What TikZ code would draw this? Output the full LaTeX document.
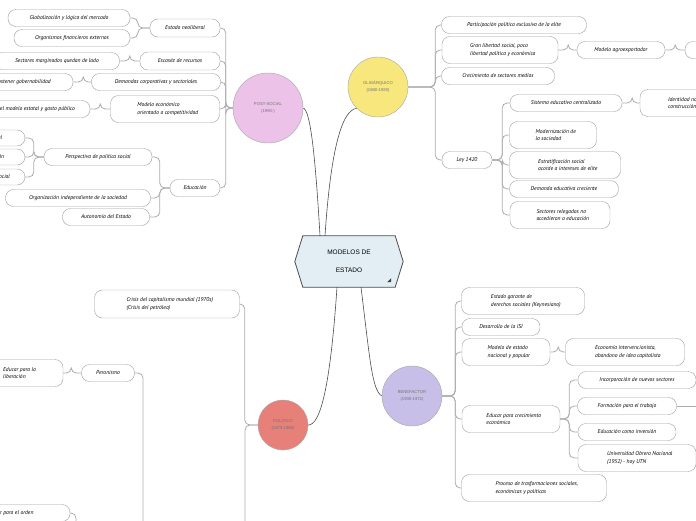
\documentclass[tikz,border=0pt]{standalone}
\usepackage{fontspec}
\setmainfont{PT Sans}
\newfontfamily\circfont{Liberation Sans}
\definecolor{cpink}{HTML}{EDC2E8}
\definecolor{cyel}{HTML}{F8E77C}
\definecolor{clav}{HTML}{C7BFE7}
\definecolor{cred}{HTML}{E8807A}
\definecolor{cblue}{HTML}{E2EEF3}
\begin{document}
\begin{tikzpicture}[x=1pt,y=-1pt,
  tb/.style={draw=gray!75, rounded corners=8pt, fill=white, font=\fontsize{5.6}{7.5}\selectfont\itshape, align=left, inner sep=1.5pt},
  cn/.style={draw=gray!65, line width=0.8pt, rounded corners=5pt},
  mn/.style={draw=black!70, line width=0.6pt},
  circ/.style={circle, draw=gray!70, font=\circfont\fontsize{4.2}{7}\selectfont, text=black!55, align=center}]
\newcommand\bx[6]{\node[tb, minimum width=#4pt, minimum height=#5pt] (#1) at (#2,#3) {#6};}
\newcommand\lc[3]{\draw[cn] (#1.west) -- ++(-#3,0) |- (#2.east);}
\newcommand\rc[3]{\draw[cn] (#1.east) -- ++(#3,0) |- (#2.west);}
\useasboundingbox (0,0) rectangle (696,520);
\begin{scope}
\clip (0,0) rectangle (696,520);
% central
\node[minimum width=108pt, minimum height=51pt, inner sep=0] (c) at (349,261.5) {};
\draw[fill=cblue, draw=black!70, line width=0.8pt] (c.west) -- ([xshift=8]c.north west) -- ([xshift=-8]c.north east) -- (c.east) -- ([xshift=-8]c.south east) -- ([xshift=8]c.south west) -- cycle;
\fill[black!75] ([xshift=-16,yshift=5]c.south east) -- ([xshift=-12,yshift=5]c.south east) -- ([xshift=-12,yshift=9]c.south east) -- cycle;
\node[font=\circfont\fontsize{6.5}{18}\selectfont, align=center] (ct) at (349,261.5) {MODELOS DE\\ESTADO};
% circles
\node[circ, fill=cpink, minimum size=70pt] (ps) at (268,108) {POST-SOCIAL\\(1990-)};
\node[circ, fill=cyel, minimum size=60pt] (ol) at (378,87) {OLIGÁRQUICO\\(1880-1929)};
\node[circ, fill=clav, minimum size=60pt] (bf) at (412,396) {BENEFACTOR\\(1930-1972)};
\node[circ, fill=cred, minimum size=50pt] (pol) at (283,425) {POLÍTICO\\(1973-1989)};
\draw[mn] ([xshift=-29]c.north) .. controls (315,150) and (310,110) .. (ps.east);
\draw[mn] ([xshift=-24]c.north) .. controls (330,160) and (340,110) .. (ol.south west);
\draw[mn] ([xshift=12]c.south) .. controls (370,360) and (372,390) .. (bf.west);
\draw[mn] ([xshift=-12]c.south) .. controls (330,390) and (320,425) .. (pol.east);
% POST-SOCIAL
\bx{en}{185}{28}{70}{18}{Estado neoliberal}
\bx{gl}{69}{18}{122}{17}{Globalización y lógica del mercado}
\bx{of}{72}{38}{116}{17}{Organismos financieros externos}
\bx{er}{180}{61}{80}{18}{Escaséz de recursos}
\bx{sm}{57}{61}{125}{17}{Sectores marginados quedan de lado}
\bx{dc}{156}{82}{129}{17}{Demandas corporativas y sectoriales}
\bx{sg}{23}{82}{100}{17}{\hfill Sostener gobernabilidad}
\bx{me}{165}{109}{109}{27}{\quad Modelo económico\\\quad orientado a competitividad}
\bx{mg}{20}{109}{140}{17}{\hfill Achicamiento del modelo estatal y gasto público}
\bx{ed}{195}{188}{50}{17}{Educación}
\bx{pp}{98}{157}{108}{17}{Perspectiva de política social}
\bx{a1}{-10}{138}{70}{16}{\hfill Asistencial}
\bx{a2}{-10}{157}{70}{16}{\hfill Focalización}
\bx{a3}{-10}{177}{70}{16}{\hfill Contención social}
\bx{oi}{78}{198}{145}{17}{Organización independiente de la sociedad}
\bx{ae}{106}{217}{87}{17}{Autonomía del Estado}
\foreach \n in {en,er,dc,me,ed} {\lc{ps}{\n}{7}}
\lc{en}{gl}{12}\lc{en}{of}{12}
\lc{er}{sm}{10}\lc{dc}{sg}{8}\lc{me}{mg}{10}
\lc{ed}{pp}{10}\lc{ed}{oi}{10}\lc{ed}{ae}{10}
\lc{pp}{a1}{10}\lc{pp}{a2}{10}\lc{pp}{a3}{10}
% OLIGARQUICO
\bx{pe}{514}{25}{145}{17}{Participación política exclusiva de la elite}
\bx{gs}{500}{50}{116}{27}{\quad Gran libertad social, poca\\\quad libertad política y económica}
\bx{ma}{621}{50}{88}{17}{Modelo agroexportador}
\bx{xx}{715}{50}{60}{17}{}
\bx{cs}{498}{76}{113}{17}{Crecimiento de sectores medios}
\bx{ley}{467}{160}{50}{17}{Ley 1420}
\bx{sc}{566}{103}{112}{17}{Sistema educativo centralizado}
\bx{in}{690}{103}{100}{27}{\quad Identidad nacional en\\\quad construcción}
\bx{ms}{553}{135}{87}{27}{\quad Modernización de\\\quad la sociedad}
\bx{es}{565}{165}{111}{27}{\quad Estratificación social\\\quad acorde a intereses de elite}
\bx{de}{564}{189}{109}{17}{Demanda educativa creciente}
\bx{sr}{560}{215}{100}{27}{\quad Sectores relegados no\\\quad accedieron a educación}
\foreach \n in {pe,gs,cs,ley} {\rc{ol}{\n}{27}}
\rc{gs}{ma}{10}\rc{ma}{xx}{10}
\foreach \n in {sc,ms,es,de,sr} {\rc{ley}{\n}{10}}
\rc{sc}{in}{10}
% BENEFACTOR
\bx{eg}{523}{301}{123}{27}{\quad Estado garante de\\\quad derechos sociales (Keynesiano)}
\bx{isi}{501}{327}{78}{17}{Desarrollo de la ISI}
\bx{mn}{506}{352}{88}{27}{\quad Modelo de estado\\\quad nacional y popular}
\bx{ei}{625}{352}{119}{27}{\quad Economía intervencionista,\\\quad abandono de idea capitalista}
\bx{ec}{511}{419}{98}{27}{\quad Educar para crecimiento\\\quad económico}
\bx{ins}{637}{380}{118}{17}{Incorporación de nuevos sectores}
\bx{ft}{627}{406}{99}{17}{Formación para el trabajo}
\coordinate (ftE) at (696,406);
\bx{ecv}{627}{432}{98}{17}{Educación como inversión}
\bx{uo}{637}{458}{118}{27}{\quad Universidad Obrera Nacional\\\quad (1952) - hoy UTN}
\bx{pt}{534}{488}{145}{27}{\quad Proceso de trasformaciones sociales,\\\quad económicas y políticas}
\foreach \n in {eg,isi,mn,ec,pt} {\rc{bf}{\n}{13}}
\rc{mn}{ei}{8}
\foreach \n in {ins,ft,ecv,uo} {\rc{ec}{\n}{9}}
\draw[cn] (ft.east) -- (ftE);
% POLITICO
\bx{cr}{167}{304}{145}{28}{\quad Crisis del capitalismo mundial (1970s)\\\quad (Crisis del petróleo)}
\bx{per}{108}{373}{53}{17}{Peronismo}
\bx{el}{20}{373}{86}{27}{\hfill Educar para la\quad\\\hfill liberación\qquad\quad}
\bx{eo}{10}{513}{120}{17}{\hfill Educar para el orden}
\coordinate (polE) at (245,530);
\coordinate (perE) at (143,530);
\coordinate (eoE) at (76,530);
\lc{pol}{cr}{13}
\draw[cn] (pol.west) -| (polE);
\draw[cn] (per.east) -| (perE);
\draw[cn] (eo.east) -| (eoE);
\lc{per}{el}{10}
\end{scope}
\end{tikzpicture}
\end{document}
